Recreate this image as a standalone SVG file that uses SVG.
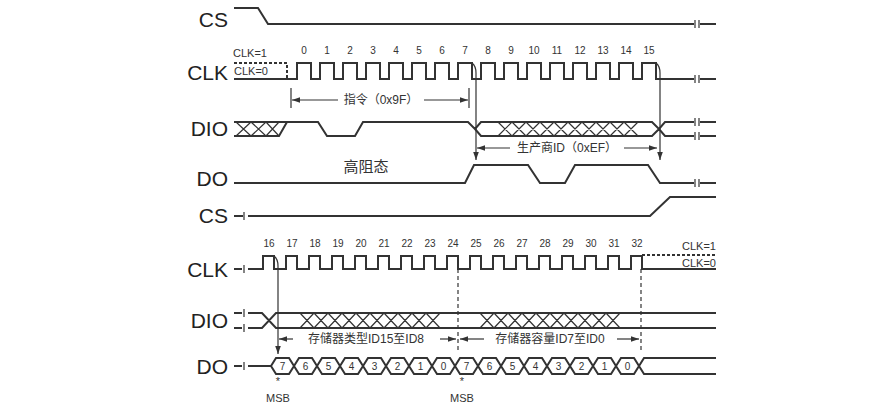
<svg xmlns="http://www.w3.org/2000/svg" width="892" height="408" viewBox="0 0 892 408">
<style>
.s{fill:none;stroke:#333;stroke-width:2}
.t{fill:none;stroke:#333;stroke-width:1.2}
.d{fill:none;stroke:#333;stroke-width:2;stroke-dasharray:3 2}
.dl{fill:none;stroke:#333;stroke-width:1.2;stroke-dasharray:4 3}
.lab{font-family:"Liberation Sans",Arial,sans-serif;font-size:21px;fill:#222;text-anchor:end}
.n{font-family:"Liberation Sans",Arial,sans-serif;font-size:10px;fill:#333;text-anchor:middle}
.cn{font-family:"Liberation Sans","Noto Sans CJK SC",sans-serif;font-size:12px;fill:#333;text-anchor:middle}
.sm{font-family:"Liberation Sans",Arial,sans-serif;font-size:11px;fill:#333}
</style>
<defs>
<marker id="a" viewBox="0 0 10 10" refX="10" refY="5" markerWidth="7" markerHeight="7" orient="auto-start-reverse"><path d="M0,1.5 L10,5 L0,8.5 Z" fill="#333"/></marker>
</defs>
<g id="labels">
<text class="lab" x="228" y="27">CS</text>
<text class="lab" x="228" y="80">CLK</text>
<text class="lab" x="228" y="136">DIO</text>
<text class="lab" x="228" y="186">DO</text>
<text class="lab" x="228" y="223">CS</text>
<text class="lab" x="228" y="277">CLK</text>
<text class="lab" x="228" y="328">DIO</text>
<text class="lab" x="228" y="374">DO</text>
</g>
<g id="cs1">
<path class="s" d="M234 8 H258 L268 24 H694 M700 24 H716"/>
<path class="t" d="M695 20 V28 M699 20 V28"/>
</g>
<g id="clk1">
<path class="d" d="M234 63 H287 V79"/>
<path class="s" d="M234 79 H297 v-16 h14 v16 h9 v-16 h14 v16 h9 v-16 h14 v16 h9 v-16 h14 v16 h9 v-16 h14 v16 h9 v-16 h14 v16 h9 v-16 h14 v16 h9 v-16 h14 v16 h9 v-16 h14 v16 h9 v-16 h14 v16 h9 v-16 h14 v16 h9 v-16 h14 v16 h9 v-16 h14 v16 h9 v-16 h14 v16 h9 v-16 h14 v16 h9 v-16 h14 v16 H694 M700 79 H716"/>
<path class="t" d="M695 75 V83 M699 75 V83"/>
<text class="sm" x="233" y="57">CLK=1</text>
<text class="sm" x="234" y="75">CLK=0</text>
<g class="n">
<text x="304" y="54">0</text><text x="327" y="54">1</text><text x="350" y="54">2</text><text x="373" y="54">3</text><text x="396" y="54">4</text><text x="419" y="54">5</text><text x="442" y="54">6</text><text x="465" y="54">7</text><text x="488" y="54">8</text><text x="511" y="54">9</text><text x="534" y="54">10</text><text x="557" y="54">11</text><text x="580" y="54">12</text><text x="603" y="54">13</text><text x="626" y="54">14</text><text x="649" y="54">15</text>
</g>
</g>
<g id="dio1">
<path class="s" d="M234 122 H287 L279 136 H234"/>
<path class="t" d="M236 122 L251 136 M236 136 L251 122 M251 122 L266 136 M251 136 L266 122 M266 122 L279 136 M266 136 L279 122"/>
<path class="s" d="M287 122 H318 L327 136 H355 L363 122 H468 L475 129 L481 122 H652 L659 129 L665 122 H694 M475 129 L481 136 H652 L659 129 L665 136 H694 M700 122 H716 M700 136 H716"/>
<path class="t" d="M695 118 V126 M699 118 V126 M695 132 V140 M699 132 V140"/>
<path class="t" d="M498 122 l14 14 m0 -14 l-14 14 M512 122 l14 14 m0 -14 l-14 14 M526 122 l14 14 m0 -14 l-14 14 M540 122 l14 14 m0 -14 l-14 14 M554 122 l14 14 m0 -14 l-14 14 M568 122 l14 14 m0 -14 l-14 14 M582 122 l14 14 m0 -14 l-14 14 M596 122 l14 14 m0 -14 l-14 14 M610 122 l14 14 m0 -14 l-14 14 M624 122 l14 14 m0 -14 l-14 14"/>
</g>
<g id="do1">
<path class="s" d="M234 183 H465 L474 165 H528 L540 183 H565 L575 165 H648 L660 183 H694 M700 183 H716"/>
<path class="t" d="M695 179 V187 M699 179 V187"/>
<text class="cn" x="366" y="172" style="font-size:15px">高阻态</text>
</g>
<g id="cs2">
<path class="s" d="M234 216 H243 M248 216 H650 L670 197 H716"/>
<path class="t" d="M244 212 V220"/>
</g>
<g id="clk2">
<path class="s" d="M234 269 H242 M248 269 H263 v-13 h11 v13 h12 v-13 h11 v13 h12 v-13 h11 v13 h12 v-13 h11 v13 h12 v-13 h11 v13 h12 v-13 h11 v13 h12 v-13 h11 v13 h12 v-13 h11 v13 h12 v-13 h11 v13 h12 v-13 h11 v13 h12 v-13 h11 v13 h12 v-13 h11 v13 h12 v-13 h11 v13 h12 v-13 h11 v13 h12 v-13 h11 v13 h12 v-13 h11 v13 h12 v-13 h11 v13 H716"/>
<path class="t" d="M244 265 V273"/>
<path class="d" d="M642 255 H716"/>
<text class="sm" x="716" y="250" text-anchor="end">CLK=1</text>
<text class="sm" x="716" y="266.5" text-anchor="end">CLK=0</text>
<g class="n">
<text x="269" y="247">16</text><text x="292" y="247">17</text><text x="315" y="247">18</text><text x="338" y="247">19</text><text x="361" y="247">20</text><text x="384" y="247">21</text><text x="407" y="247">22</text><text x="430" y="247">23</text><text x="453" y="247">24</text><text x="476" y="247">25</text><text x="499" y="247">26</text><text x="522" y="247">27</text><text x="545" y="247">28</text><text x="568" y="247">29</text><text x="591" y="247">30</text><text x="614" y="247">31</text><text x="637" y="247">32</text>
</g>
</g>
<g id="dio2">
<path class="s" d="M234 313 H242 M248 313 H262 L276 328 H716 M234 328 H242 M248 328 H262 L276 313 H716"/>
<path class="t" d="M244 309 V317 M244 324 V332"/>
<path class="t" d="M300 313 l14 15 m0 -15 l-14 15 M314 313 l14 15 m0 -15 l-14 15 M328 313 l14 15 m0 -15 l-14 15 M342 313 l14 15 m0 -15 l-14 15 M356 313 l14 15 m0 -15 l-14 15 M370 313 l14 15 m0 -15 l-14 15 M384 313 l14 15 m0 -15 l-14 15 M398 313 l14 15 m0 -15 l-14 15 M412 313 l14 15 m0 -15 l-14 15 M426 313 l14 15 m0 -15 l-14 15"/>
<path class="t" d="M480 313 l14 15 m0 -15 l-14 15 M494 313 l14 15 m0 -15 l-14 15 M508 313 l14 15 m0 -15 l-14 15 M522 313 l14 15 m0 -15 l-14 15 M536 313 l14 15 m0 -15 l-14 15 M550 313 l14 15 m0 -15 l-14 15 M564 313 l14 15 m0 -15 l-14 15 M578 313 l14 15 m0 -15 l-14 15 M592 313 l14 15 m0 -15 l-14 15 M606 313 l14 15 m0 -15 l-14 15"/>
</g>
<g id="do2">
<path class="s" d="M234 366 H242 M248 366 H271"/>
<path class="t" d="M244 362 V370"/>
<path class="s" d="M271 366 l5 -8 h13 l5 8 l-5 8 h-13 z M294 366 l5 -8 h13 l5 8 l-5 8 h-13 z M317 366 l5 -8 h13 l5 8 l-5 8 h-13 z M340 366 l5 -8 h13 l5 8 l-5 8 h-13 z M363 366 l5 -8 h13 l5 8 l-5 8 h-13 z M386 366 l5 -8 h13 l5 8 l-5 8 h-13 z M409 366 l5 -8 h13 l5 8 l-5 8 h-13 z M432 366 l5 -8 h13 l5 8 l-5 8 h-13 z M455 366 l5 -8 h13 l5 8 l-5 8 h-13 z M478 366 l5 -8 h13 l5 8 l-5 8 h-13 z M501 366 l5 -8 h13 l5 8 l-5 8 h-13 z M524 366 l5 -8 h13 l5 8 l-5 8 h-13 z M547 366 l5 -8 h13 l5 8 l-5 8 h-13 z M570 366 l5 -8 h13 l5 8 l-5 8 h-13 z M593 366 l5 -8 h13 l5 8 l-5 8 h-13 z M616 366 l5 -8 h13 l5 8 l-5 8 h-13 z M639 366 L644 358 H716 M639 366 L644 374 H716"/>
<g class="n">
<text x="282.5" y="370">7</text><text x="305.5" y="370">6</text><text x="328.5" y="370">5</text><text x="351.5" y="370">4</text><text x="374.5" y="370">3</text><text x="397.5" y="370">2</text><text x="420.5" y="370">1</text><text x="443.5" y="370">0</text><text x="466.5" y="370">7</text><text x="489.5" y="370">6</text><text x="512.5" y="370">5</text><text x="535.5" y="370">4</text><text x="558.5" y="370">3</text><text x="581.5" y="370">2</text><text x="604.5" y="370">1</text><text x="627.5" y="370">0</text>
</g>
<g class="n" style="font-size:11px">
<text x="278" y="385">*</text><text x="278" y="402">MSB</text>
<text x="462" y="385">*</text><text x="462" y="402">MSB</text>
</g>
</g>
<g id="connectors">
<path class="t" d="M472 63 Q476 66 476 73 V160" marker-end="url(#a)"/>
<path class="t" d="M656 63 Q660 66 660 73 V160" marker-end="url(#a)"/>
<path class="t" d="M274 256 Q278 259 278 266 V354" marker-end="url(#a)"/>
<path class="t" d="M291 88 V108 M469 88 V108"/>
<path class="t" d="M338 100 H292" marker-end="url(#a)"/>
<path class="t" d="M424 100 H468" marker-end="url(#a)"/>
<text class="cn" x="381" y="104">指令（0x9F）</text>
<path class="t" d="M510 148 H477" marker-end="url(#a)"/>
<path class="t" d="M624 148 H657" marker-end="url(#a)"/>
<text class="cn" x="567" y="152">生产商ID（0xEF）</text>
<path class="dl" d="M458 269 V352 M641 269 V352"/>
<path class="t" d="M293 339 H279" marker-end="url(#a)"/>
<path class="t" d="M440 339 H456" marker-end="url(#a)"/>
<text class="cn" x="366" y="343">存储器类型ID15至ID8</text>
<path class="t" d="M484 339 H460" marker-end="url(#a)"/>
<path class="t" d="M617 339 H639" marker-end="url(#a)"/>
<text class="cn" x="550" y="343">存储器容量ID7至ID0</text>
</g>
</svg>
